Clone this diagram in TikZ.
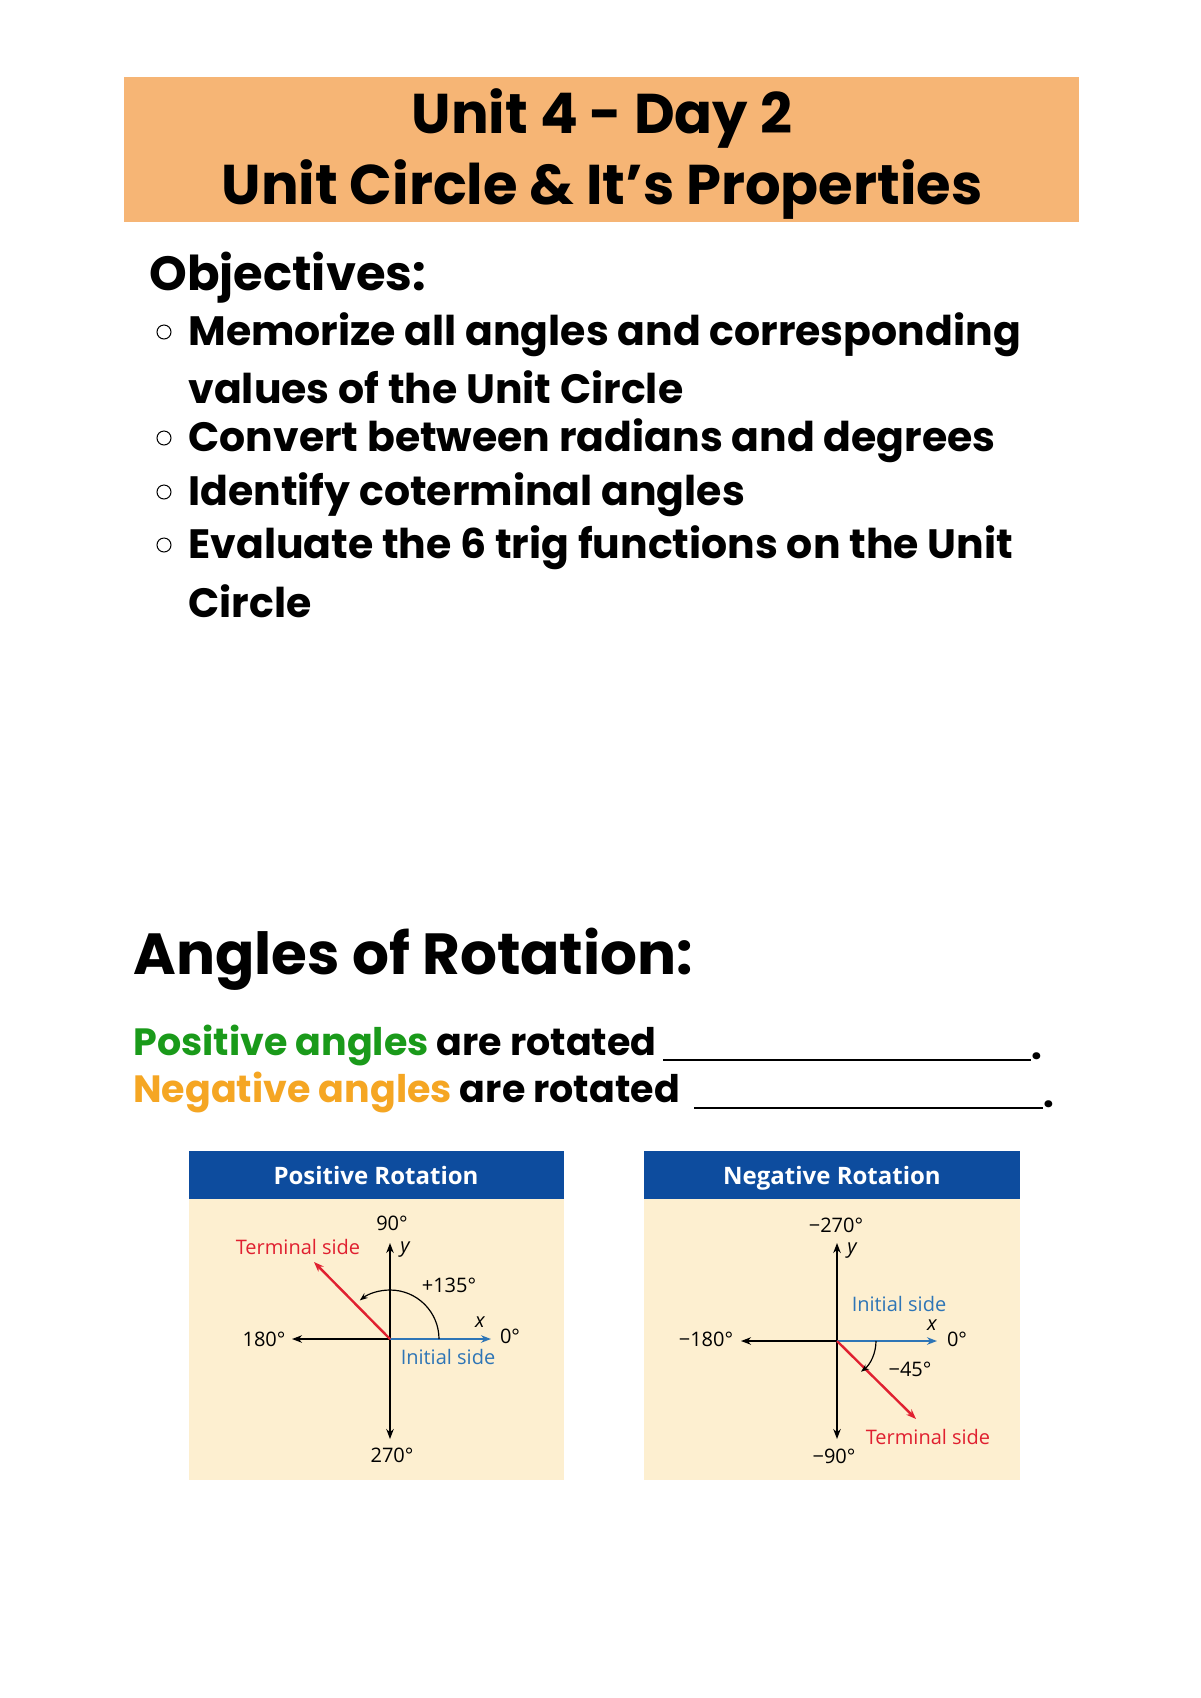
\documentclass[tikz,border=0pt]{standalone}
\usepackage{fontspec}
\setmainfont{Poppins}
\newfontfamily\diag{Open Sans}
\usetikzlibrary{arrows.meta}
\definecolor{hdr}{HTML}{F6B575}
\definecolor{cream}{HTML}{FDEFD0}
\definecolor{band}{HTML}{0D4C9E}
\definecolor{grn}{HTML}{1A9A1A}
\definecolor{org}{HTML}{F5A623}
\definecolor{rd}{HTML}{E02030}
\definecolor{bl}{HTML}{2E75B6}
\tikzset{
  title/.style={font=\fontsize{28}{33}\selectfont\bfseries, anchor=center},
  bul/.style={font=\fontsize{20.5}{25}\selectfont\bfseries, anchor=west, inner sep=0},
  dot/.style={draw, line width=0.5pt, circle, minimum size=7pt, inner sep=0},
  lab/.style={font=\diag\fontsize{10}{12}\selectfont, inner sep=0},
  axis/.style={line width=0.7pt, -{Stealth[length=5pt]}},
  boxtitle/.style={font=\diag\fontsize{12}{14}\selectfont\bfseries, text=white, text height=9pt, text depth=2.5pt},
  rot/.style={font=\fontsize{19}{23}\selectfont\bfseries, anchor=west, inner sep=0},
}
\begin{document}
\begin{tikzpicture}[x=0.5pt,y=-0.5pt]
\useasboundingbox[fill=white] (0,0) rectangle (1200,1698);
% header
\fill[hdr] (124,77) rectangle (1079,222);
\node[title] (t1) at (602,118) {Unit 4 - Day 2};
\node[title] (t2) at (602,190) {Unit Circle \& It's Properties};
% objectives
\node[font=\fontsize{24}{30}\selectfont\bfseries, anchor=west, inner sep=0] (obj) at (149,278) {Objectives:};
\foreach \y/\t [count=\i] in {335/Memorize all angles and corresponding, 441/Convert between radians and degrees, 495/Identify coterminal angles, 548/Evaluate the 6 trig functions on the Unit}{
  \node[dot] (d\i) at (164,\y-3) {};
  \node[bul] (b\i) at (188,\y) {\t};
}
\node[bul] (b1b) at (188,387) {values of the Unit Circle};
\node[bul] (b4b) at (188,601) {Circle};
% angles of rotation
\node[font=\fontsize{29}{34}\selectfont\bfseries, anchor=west, inner sep=0] (aor) at (133,959) {Angles of Rotation:};
\node[rot] (pos) at (133,1045) {\textcolor{grn}{Positive angles} are rotated};
\node[rot] (neg) at (133,1092) {\textcolor{org}{Negative angles} are rotated};
\coordinate (p1) at (663,1060); \coordinate (p2) at (1031,1060);
\coordinate (n1) at (694,1108); \coordinate (n2) at (1043,1108);
\draw[line width=0.8pt] (p1) -- (p2); \draw[line width=0.8pt] (n1) -- (n2);
\node[rot, anchor=south west] at (p2) {.};
\node[rot, anchor=south west] at (n2) {.};
% positive box
\fill[cream] (189,1151) rectangle (564,1480);
\fill[band] (189,1151) rectangle (564,1199);
\node[boxtitle] (pt) at (376,1178) {Positive Rotation};
\coordinate (O1) at (390,1339);
\coordinate (Y1a) at (390,1243); \coordinate (Y1b) at (390,1439);
\coordinate (X1a) at (292,1339); \coordinate (X1b) at (491,1339);
\coordinate (T1) at (314,1262);
\draw[axis] (O1) -- (Y1a); \draw[axis] (O1) -- (Y1b); \draw[axis] (O1) -- (X1a);
\draw[axis, bl, line width=1.2pt] (O1) -- (X1b);
\draw[axis, rd, line width=1.2pt] (O1) -- (T1);
\draw[line width=0.6pt, -{Stealth[length=4pt]}] ([xshift=24.5pt]O1) arc[start angle=0, end angle=128, radius=24.5pt];
\node[lab] at (392,1223) {90°};
\node[lab] at (405,1250) {\itshape y};
\node[lab, text=rd] at (298,1247) {Terminal side};
\node[lab] at (449,1285) {+135°};
\node[lab] at (264,1339) {180°};
\node[lab] at (480,1322) {\itshape x};
\node[lab] at (510,1336) {0°};
\node[lab, text=bl] at (448,1357) {Initial side};
\node[lab] at (392,1455) {270°};
% negative box
\fill[cream] (644,1151) rectangle (1020,1480);
\fill[band] (644,1151) rectangle (1020,1199);
\node[boxtitle] (nt) at (832,1178) {Negative Rotation};
\coordinate (O2) at (837,1341);
\coordinate (Y2a) at (837,1243); \coordinate (Y2b) at (837,1439);
\coordinate (X2a) at (741,1341); \coordinate (X2b) at (937,1341);
\coordinate (T2) at (916,1419);
\draw[axis] (O2) -- (Y2a); \draw[axis] (O2) -- (Y2b); \draw[axis] (O2) -- (X2a);
\draw[axis, bl, line width=1.2pt] (O2) -- (X2b);
\draw[axis, rd, line width=1.2pt] (O2) -- (T2);
\draw[line width=0.6pt, -{Stealth[length=4pt]}] ([xshift=19.5pt]O2) arc[start angle=0, end angle=-52, radius=19.5pt];
\node[lab] at (836,1225) {−270°};
\node[lab] at (852,1251) {\itshape y};
\node[lab, text=bl] at (899,1304) {Initial side};
\node[lab] at (932,1325) {\itshape x};
\node[lab] at (957,1339) {0°};
\node[lab] at (706,1339) {−180°};
\node[lab] at (910,1369) {−45°};
\node[lab, text=rd] at (928,1437) {Terminal side};
\node[lab] at (834,1456) {−90°};
\end{tikzpicture}
\end{document}
